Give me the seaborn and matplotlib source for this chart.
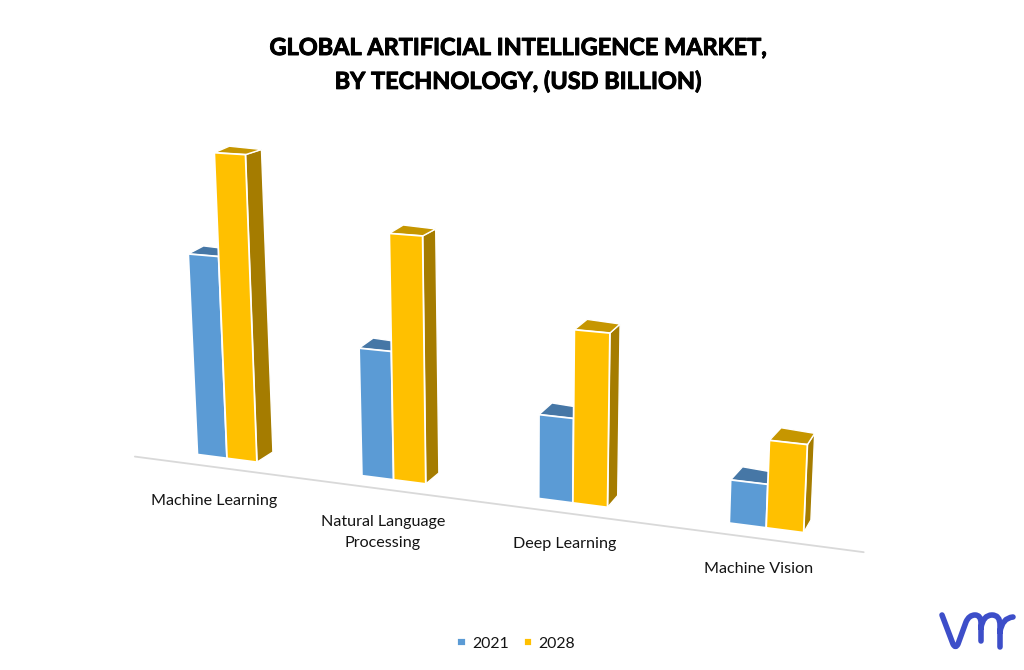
import numpy as np
import pandas as pd
import seaborn as sns
import matplotlib
matplotlib.use("Agg")
import matplotlib.pyplot as plt
from matplotlib.transforms import Transform, Affine2D
from matplotlib.patches import Polygon, PathPatch
from matplotlib.path import Path
import matplotlib.patheffects as pe

# ---- data (arbitrary-scale USD bn) ----
technologies = ["Machine Learning", "Natural Language\nProcessing", "Deep Learning", "Machine Vision"]
years = ["2021", "2028"]
values_2021 = [20.1, 12.5, 8.0, 4.0]
values_2028 = [30.0, 23.6, 16.2, 8.0]

# ---- styles ----
front_colors = {"2021": "#5B9BD5", "2028": "#FFC000"}
top_colors = {"2021": "#4677A6", "2028": "#C69600"}
side_colors = {"2021": "#3F6C98", "2028": "#A57C00"}
W, H = 1024, 670
FONT = "Lato"

sns.set_theme(style="white")
plt.rcParams["font.family"] = [FONT, "DejaVu Sans"]

fig = plt.figure(figsize=(W / 100, H / 100), dpi=100, facecolor="white")
ax = fig.add_axes([0, 0, 1, 1])

df = pd.DataFrame({
    "Technology": technologies * 2,
    "Year": [years[0]] * 4 + [years[1]] * 4,
    "Value": values_2021 + values_2028,
})
sns.barplot(data=df, x="Technology", y="Value", hue="Year", hue_order=years,
            palette=front_colors, width=0.37, gap=0, saturation=1,
            edgecolor="white", linewidth=1.3, ax=ax)

# ---- perspective scale: category position / value -> image pixels ----
src = [(0, 0), (3, 0), (0, 30), (3, 30)]
dst = [(227, 458.3), (766.2, 527.8), (214.3, 152.7), (778.8, 187.8)]
A, b = [], []
for (x, y), (u, v) in zip(src, dst):
    A.append([x, y, 1, 0, 0, 0, -u * x, -u * y]); b.append(u)
    A.append([0, 0, 0, x, y, 1, -v * x, -v * y]); b.append(v)
HOMOG = np.append(np.linalg.solve(np.array(A, float), np.array(b, float)), 1).reshape(3, 3)


def project(xy):
    xy = np.atleast_2d(np.asarray(xy, float))
    p = np.column_stack([xy, np.ones(len(xy))]) @ HOMOG.T
    return p[:, :2] / p[:, 2:]


class Perspective(Transform):
    input_dims = output_dims = 2
    is_separable = False
    has_inverse = False

    def transform_non_affine(self, values):
        return project(values)


px = Affine2D().scale(1, -1).translate(0, H)
proj = Perspective() + px


def depth_right(i, v):
    return np.array([16.5 - 2.9 * i, -(10 + 0.8 * i) + 5 * v / 30])


def depth_left(i, v):
    return np.array([15.0 - 1.1 * i, -(11.5 + 0.8 * i) + 5 * v / 30])


# ---- turn the seaborn bars into 3-D columns ----
order = []
for yi, container in enumerate(ax.containers):
    for bar in container:
        cat = bar.get_x() + bar.get_width() / 2
        order.append((round(cat), yi, bar))
order.sort(key=lambda t: (t[0], t[1]))

z = 3
for cat, yi, bar in order:
    year = years[yi]
    x0, x1, v = bar.get_x(), bar.get_x() + bar.get_width(), bar.get_height()
    fl, fr, br = project([(x0, v), (x1, v), (x1, 0)])
    dr_top, dr_bot, dl_top = depth_right(x1, v), depth_right(x1, 0), depth_left(x0, v)
    side = Polygon([fr, br, br + dr_bot, fr + dr_top], closed=True, transform=px,
                   facecolor=side_colors[year], edgecolor="white", linewidth=1.0,
                   zorder=z, clip_on=False)
    top = Polygon([fl, fr, fr + dr_top, fl + dl_top], closed=True, transform=px,
                  facecolor=top_colors[year], edgecolor="white", linewidth=1.0,
                  zorder=z, clip_on=False)
    ax.add_patch(side)
    ax.add_patch(top)
    bar.set_transform(proj)
    bar.set_clip_on(False)
    bar.set_zorder(z + 0.5)
    z += 1

# ---- sloped category baseline (sits just in front of the columns) ----
ax.plot([-0.5885, 3.479], [-1.07, -1.07], transform=proj, color="#D9D9D9", lw=1.3,
        zorder=1, clip_on=False)

# ---- category labels ----
label_xy = [(214.5, 500.5), (383, 532.5), (564.5, 544), (759, 569)]
for name, (lx, ly) in zip(technologies, label_xy):
    ax.text(lx, ly, name, transform=px, ha="center", va="center", fontsize=11.6,
            color="#141414", linespacing=1.62, family=[FONT, "DejaVu Sans"])

# ---- title ----
title_effect = [pe.withStroke(linewidth=0.7, foreground="black")]
for line, ty in zip(["GLOBAL ARTIFICIAL INTELLIGENCE MARKET,", "BY TECHNOLOGY, (USD BILLION)"], [48.5, 82]):
    ax.text(518, ty, line, transform=px, ha="center", va="center", fontsize=16.9,
            fontweight="bold", color="black", family=[FONT, "DejaVu Sans"],
            path_effects=title_effect)

# ---- legend ----
handles, labels = ax.get_legend_handles_labels()
ax.legend(handles, labels, loc="center", bbox_to_anchor=(516 / W, 1 - 643.5 / H),
          bbox_transform=fig.transFigure, ncol=2, frameon=False, fontsize=11.4,
          handlelength=0.55, handleheight=0.42, handletextpad=0.36,
          columnspacing=0.95, borderpad=0, labelcolor="#141414")

# ---- logo ----
logo = Path(
    [(942, 615), (953, 644), (955.5, 649), (958, 644), (966, 622), (969, 615), (975, 615),
     (981, 615), (981, 623), (981, 641),
     (981, 628), (983, 615), (992, 615), (1000, 615), (1000, 625), (1000, 647),
     (1000, 632), (1002, 618), (1013, 617)],
    [Path.MOVETO, Path.LINETO, Path.CURVE3, Path.CURVE3, Path.LINETO, Path.CURVE3, Path.CURVE3,
     Path.CURVE3, Path.CURVE3, Path.LINETO,
     Path.MOVETO, Path.CURVE3, Path.CURVE3, Path.CURVE3, Path.CURVE3, Path.LINETO,
     Path.MOVETO, Path.CURVE3, Path.CURVE3])
ax.add_patch(PathPatch(logo, transform=px, facecolor="none", edgecolor="#3D4EC9",
                       linewidth=4.0, capstyle="round", joinstyle="round", clip_on=False))

ax.set_axis_off()
fig.savefig("out.png", dpi=100, facecolor="white")
